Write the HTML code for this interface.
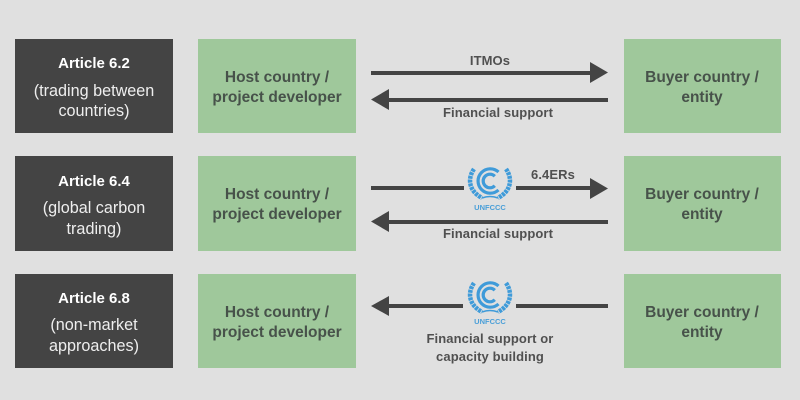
<!DOCTYPE html>
<html><head><meta charset="utf-8"><style>
html,body{margin:0;padding:0;background:#e0e0e0}
svg{display:block}
text{font-family:"Liberation Sans",sans-serif;text-anchor:middle}
.h{font-size:15px;font-weight:bold;fill:#fff}
.w{font-size:16.200px;fill:#eeeeee}
.g{font-size:15.500px;font-weight:bold;fill:#47524a}
.l{font-size:13px;fill:#505050;font-weight:bold;letter-spacing:.1px}
.u{font-size:7.500px;font-weight:bold;fill:#4a9fd8}
</style></head><body>
<svg width="800" height="400" viewBox="0 0 800 400" xmlns="http://www.w3.org/2000/svg">
<defs>
<g id="logo" fill="none" stroke="#3f9bd9">
<path d="M8.500,-9 A12.200,12.200 0 1 0 8.500,9" stroke-width="3.200"/>
<path d="M4.800,-4.800 A6.800,6.800 0 1 0 4.800,4.800" stroke-width="3.200"/>
<path d="M-16,-12 C-23,-2 -21,10 -8,17" stroke-width="4.500" stroke-dasharray="3 .8"/>
<path d="M16,-12 C23,-2 21,10 8,17" stroke-width="4.500" stroke-dasharray="3 .8"/>
<path d="M-8,17 Q0,14 8,17" stroke-width="1.500"/>
</g>
</defs>
<rect width="800" height="400" fill="#e0e0e0"/>

<g fill="#444444">
<rect x="15" y="39" width="158" height="94"/>
<rect x="15" y="156" width="158" height="95"/>
<rect x="15" y="274" width="158" height="94"/>
</g>
<g fill="#9fc89b">
<rect x="198" y="39" width="158" height="94"/>
<rect x="198" y="156" width="158" height="95"/>
<rect x="198" y="274" width="158" height="94"/>
<rect x="624" y="39" width="157" height="94"/>
<rect x="624" y="156" width="157" height="95"/>
<rect x="624" y="274" width="157" height="94"/>
</g>

<text class="h" x="94" y="68">Article 6.2</text>
<text class="w" x="94" y="96">(trading between</text>
<text class="w" x="94" y="116">countries)</text>
<text class="h" x="94" y="186">Article 6.4</text>
<text class="w" x="94" y="213">(global carbon</text>
<text class="w" x="94" y="234">trading)</text>
<text class="h" x="94" y="303">Article 6.8</text>
<text class="w" x="94" y="330">(non-market</text>
<text class="w" x="94" y="351">approaches)</text>

<text class="g" x="277" y="82">Host country /</text>
<text class="g" x="277" y="102">project developer</text>
<text class="g" x="277" y="199">Host country /</text>
<text class="g" x="277" y="219">project developer</text>
<text class="g" x="277" y="317">Host country /</text>
<text class="g" x="277" y="337">project developer</text>

<text class="g" x="702" y="82">Buyer country /</text>
<text class="g" x="702" y="102">entity</text>
<text class="g" x="702" y="199">Buyer country /</text>
<text class="g" x="702" y="219">entity</text>
<text class="g" x="702" y="317">Buyer country /</text>
<text class="g" x="702" y="337">entity</text>

<g fill="#444444">
<rect x="371" y="71" width="220" height="4"/><polygon points="590,62 608,72.500 590,83"/>
<rect x="388" y="98" width="220" height="4"/><polygon points="389,89 371,99.500 389,110"/>
<rect x="371" y="186" width="93" height="4"/>
<rect x="516" y="186" width="75" height="4"/><polygon points="590,178 608,188.500 590,199"/>
<rect x="388" y="220" width="220" height="4"/><polygon points="389,211 371,221.500 389,232"/>
<rect x="388" y="304" width="75" height="4"/><polygon points="389,296 371,306 389,316"/>
<rect x="516" y="304" width="92" height="4"/>
</g>

<text class="l" x="490" y="65">ITMOs</text>
<text class="l" x="498" y="117">Financial support</text>
<text class="l" x="553" y="179">6.4ERs</text>
<text class="l" x="498" y="238">Financial support</text>
<text class="l" x="490" y="343">Financial support or</text>
<text class="l" x="490" y="361">capacity building</text>

<use href="#logo" x="490" y="181"/>
<text class="u" x="490" y="210">UNFCCC</text>
<use href="#logo" x="490" y="295"/>
<text class="u" x="490" y="324">UNFCCC</text>
</svg>
</body></html>
